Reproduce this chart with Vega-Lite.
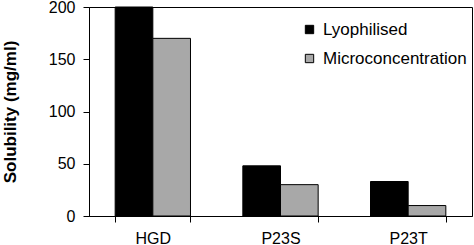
{
  "$schema": "https://vega.github.io/schema/vega-lite/v6.json",
  "width": 383,
  "height": 209,
  "autosize": {"type": "none"},
  "padding": {"left": 89, "top": 7, "right": 2, "bottom": 29},
  "background": "white",
  "data": {
    "values": [
      {"protein": "HGD", "method": "Lyophilised", "solubility": 200},
      {"protein": "HGD", "method": "Microconcentration", "solubility": 170},
      {"protein": "P23S", "method": "Lyophilised", "solubility": 48},
      {"protein": "P23S", "method": "Microconcentration", "solubility": 30},
      {"protein": "P23T", "method": "Lyophilised", "solubility": 33},
      {"protein": "P23T", "method": "Microconcentration", "solubility": 10}
    ]
  },
  "mark": {"type": "bar", "stroke": "black", "strokeWidth": 1},
  "encoding": {
    "x": {
      "field": "protein",
      "type": "nominal",
      "sort": ["HGD", "P23S", "P23T"],
      "scale": {"paddingInner": 0.41, "paddingOuter": 0.205},
      "axis": {
        "title": null,
        "labelAngle": 0,
        "tickBand": "extent",
        "tickSize": 6,
        "labelPadding": 8,
        "labelFontSize": 16
      }
    },
    "xOffset": {"field": "method", "sort": ["Lyophilised", "Microconcentration"]},
    "y": {
      "field": "solubility",
      "type": "quantitative",
      "scale": {"domain": [0, 200]},
      "axis": {
        "title": "Solubility (mg/ml)",
        "values": [0, 50, 100, 150, 200],
        "grid": false,
        "tickSize": 6,
        "labelPadding": 8,
        "labelFontSize": 16,
        "titleFontSize": 17,
        "titleFontWeight": "bold",
        "titlePadding": 29
      }
    },
    "color": {
      "field": "method",
      "type": "nominal",
      "sort": ["Lyophilised", "Microconcentration"],
      "scale": {"range": ["#000000", "#a8a8a8"]},
      "legend": {
        "title": null,
        "orient": "none",
        "legendX": 212,
        "legendY": 14,
        "padding": 0,
        "symbolType": "square",
        "symbolSize": 70,
        "symbolStrokeColor": "black",
        "symbolStrokeWidth": 1,
        "symbolOpacity": 1,
        "labelFontSize": 17,
        "labelOffset": 5,
        "rowPadding": 11
      }
    }
  },
  "config": {
    "font": "Liberation Sans",
    "view": {"stroke": "black", "strokeWidth": 1},
    "axis": {
      "domainColor": "black",
      "tickColor": "black",
      "labelColor": "black",
      "titleColor": "black",
      "labelFont": "Liberation Sans",
      "titleFont": "Liberation Sans"
    },
    "legend": {"labelColor": "black", "labelFont": "Liberation Sans"}
  }
}
